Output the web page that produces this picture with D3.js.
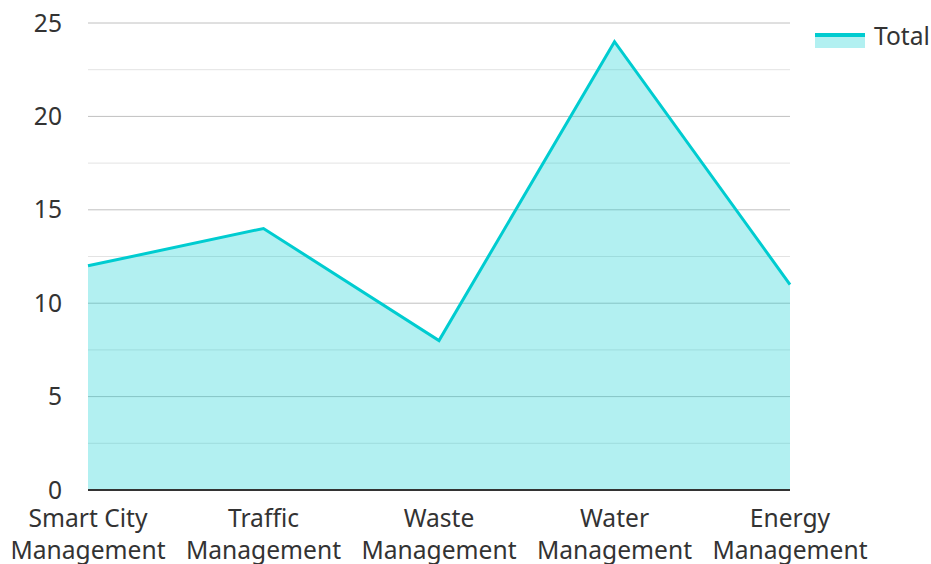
<!DOCTYPE html>
<html><head><meta charset="utf-8">
<script src="https://cdn.jsdelivr.net/npm/d3@7"></script>
<style>body{margin:0;background:#fff}svg{display:block}text{font-family:"Noto Sans",sans-serif;fill:#333}</style>
</head><body><svg id="c" width="931" height="564"></svg>
<script>
const categories = [["Smart City","Management"],["Traffic","Management"],["Waste","Management"],["Water","Management"],["Energy","Management"]];
const values = [12, 14, 8, 24, 11];
const yTicks = [0, 5, 10, 15, 20, 25];
const minorTicks = [2.5, 7.5, 12.5, 17.5, 22.5];
const seriesName = "Total";

const svg = d3.select("#c");
const x = d3.scalePoint().domain(d3.range(categories.length)).range([88, 790]);
const y = d3.scaleLinear().domain([0, 25]).range([490, 23]);
const lineColor = "#00ccd0";
const fillColor = "rgba(0,206,209,0.3)";
const fs = 24.6;

svg.append("g").selectAll("line").data(minorTicks).join("line")
  .attr("x1", 88).attr("x2", 790).attr("y1", d => y(d)).attr("y2", d => y(d))
  .attr("stroke", "#e3e3e3").attr("stroke-width", 1);
svg.append("g").selectAll("line").data(yTicks.filter(d => d > 0)).join("line")
  .attr("x1", 88).attr("x2", 790).attr("y1", d => y(d)).attr("y2", d => y(d))
  .attr("stroke", "#c0c0c0").attr("stroke-width", 1);

const area = d3.area().x((d, i) => x(i)).y0(y(0)).y1(d => y(d));
const line = d3.line().x((d, i) => x(i)).y(d => y(d));
svg.append("path").datum(values).attr("d", area).attr("fill", fillColor);
svg.append("path").datum(values).attr("d", line).attr("fill", "none")
  .attr("stroke", lineColor).attr("stroke-width", 3).attr("stroke-linejoin", "miter");

svg.append("line").attr("x1", 88).attr("x2", 790).attr("y1", y(0)).attr("y2", y(0))
  .attr("stroke", "#333").attr("stroke-width", 2);

svg.append("g").selectAll("text").data(yTicks).join("text")
  .attr("x", 62).attr("y", d => y(d)).attr("dy", "0.35em")
  .attr("text-anchor", "end").attr("font-size", fs).text(d => d);

const xl = svg.append("g").selectAll("text").data(categories).join("text")
  .attr("x", (d, i) => x(i)).attr("y", 527).attr("text-anchor", "middle").attr("font-size", fs);
xl.selectAll("tspan").data(d => d).join("tspan")
  .attr("x", function(){ return d3.select(this.parentNode).attr("x"); })
  .attr("dy", (d, i) => i === 0 ? 0 : 32).text(d => d);

const lg = svg.append("g");
lg.append("rect").attr("x", 815).attr("y", 36).attr("width", 50).attr("height", 12).attr("fill", fillColor);
lg.append("line").attr("x1", 815).attr("x2", 865).attr("y1", 35).attr("y2", 35)
  .attr("stroke", lineColor).attr("stroke-width", 4);
lg.append("text").attr("x", 874).attr("y", 36).attr("dy", "0.35em").attr("font-size", fs).text(seriesName);
</script></body></html>
